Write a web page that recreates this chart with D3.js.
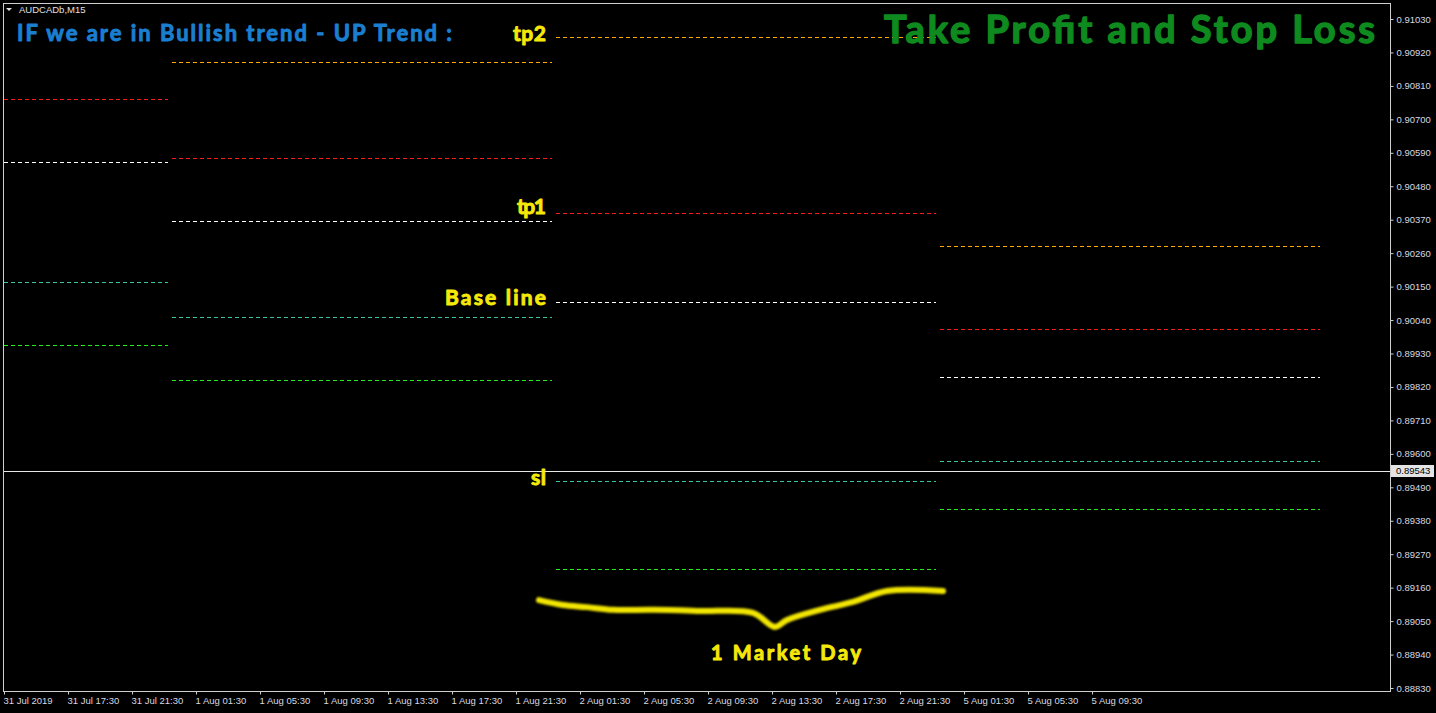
<!DOCTYPE html>
<html><head><meta charset="utf-8">
<script src="https://cdn.jsdelivr.net/npm/d3@7"></script>
<style>html,body{margin:0;padding:0;background:#000;overflow:hidden}</style>
</head><body><svg id="c" width="1436" height="713"></svg>
<script>
// ---------- data ----------
const symbolLabel = "AUDCADb,M15";
const yTicks = [0.88830,0.88940,0.89050,0.89160,0.89270,0.89380,0.89490,0.89600,0.89710,0.89820,0.89930,0.90040,0.90150,0.90260,0.90370,0.90480,0.90590,0.90700,0.90810,0.90920,0.91030];
const xTickIndex = [0,16,32,48,64,80,96,112,128,144,160,176,192,208,224,240,256,272];
const xTickLabels = ["31 Jul 2019","31 Jul 17:30","31 Jul 21:30","1 Aug 01:30","1 Aug 05:30","1 Aug 09:30","1 Aug 13:30","1 Aug 17:30","1 Aug 21:30","2 Aug 01:30","2 Aug 05:30","2 Aug 09:30","2 Aug 13:30","2 Aug 17:30","2 Aug 21:30","5 Aug 01:30","5 Aug 05:30","5 Aug 09:30"];
// daily pivot segments (bar index of M15 chart)
const segStart = [0, 42, 138, 234];
const segEnd   = [41, 137, 233, 329];
const tp2Level  = [null, 0.90889, 0.90971, 0.90283];
const tp1Level  = [0.90767, 0.90573, 0.90392, 0.90011];
const baseLevel = [0.90560, 0.90366, 0.90099, 0.89853];
const slLevel   = [0.90165, 0.90050, 0.89511, 0.89576];
const s2Level   = [0.89958, 0.89843, 0.89221, 0.89419];
const currentPrice = 0.89543;
// hand-drawn yellow "1 market day" stroke
const curveIdx   = [133.75,139.75,145.75,152.25,162.25,174,187.25,192.75,195.75,204,212.25,220.75,234.75];
const curvePrice = [0.89119,0.89103,0.89096,0.89087,0.89087,0.89083,0.89077,0.89031,0.89054,0.89087,0.89113,0.89149,0.89149];
const annotations = [
  {text:"tp2", idx:135.5, price:0.90971},
  {text:"tp1", idx:135.5, price:0.90392},
  {text:"Base line", idx:135.5, price:0.90099},
  {text:"sl", idx:135.5, price:0.89511}
];

// ---------- layout ----------
const W = 1436, H = 713;
const frame = {l:3, t:3, r:1390, b:691};
const svg = d3.select("#c");
svg.append("rect").attr("width",W).attr("height",H).attr("fill","#000");

const x = d3.scaleLinear().domain([0, 346.5]).range([4, 1390]);
const y = d3.scaleLinear().domain([0.88830, 0.91030]).range([688, 19]);

const defs = svg.append("defs");
defs.append("clipPath").attr("id","clip").append("rect")
  .attr("x",frame.l).attr("y",frame.t).attr("width",frame.r-frame.l).attr("height",frame.b-frame.t);
const blur = defs.append("filter").attr("id","blur").attr("x","-5%").attr("y","-50%").attr("width","110%").attr("height","200%");
blur.append("feGaussianBlur").attr("stdDeviation",1.1);

const plot = svg.append("g").attr("clip-path","url(#clip)");

// current price line
plot.append("line").attr("x1",frame.l).attr("x2",frame.r)
  .attr("y1",Math.round(y(currentPrice))+0.5).attr("y2",Math.round(y(currentPrice))+0.5)
  .attr("stroke","#e8e8e8").attr("stroke-width",1);

// pivot levels
const levels = [
  {vals:tp2Level, color:"#ffa800"},
  {vals:tp1Level, color:"#ff1a1a"},
  {vals:baseLevel, color:"#ffffff"},
  {vals:slLevel, color:"#3cc4a0"},
  {vals:s2Level, color:"#22ee22"}
];
levels.forEach(lv => {
  lv.vals.forEach((v,i) => {
    if (v == null) return;
    const yy = Math.round(y(v)) + 0.5;
    plot.append("line")
      .attr("x1", x(segStart[i])).attr("x2", x(segEnd[i]))
      .attr("y1", yy).attr("y2", yy)
      .attr("stroke", lv.color).attr("stroke-width",1)
      .attr("stroke-dasharray","4,3");
  });
});

// yellow curve
const line = d3.line().x(d=>x(d[0])).y(d=>y(d[1])).curve(d3.curveCatmullRom.alpha(0.5));
plot.append("path").datum(curveIdx.map((d,i)=>[d,curvePrice[i]]))
  .attr("d", line).attr("fill","none").attr("stroke","#f2e600")
  .attr("stroke-width",6).attr("stroke-linecap","round").attr("stroke-linejoin","round")
  .attr("filter","url(#blur)");

// frame
svg.append("rect").attr("x",frame.l+0.5).attr("y",frame.t+0.5)
  .attr("width",frame.r-frame.l).attr("height",frame.b-frame.t)
  .attr("fill","none").attr("stroke","#cfcfcf").attr("stroke-width",1);

// y axis
const yAxisG = svg.append("g").attr("transform",`translate(${frame.r+0.5},0)`)
  .call(d3.axisRight(y).tickValues(yTicks).tickSize(3).tickFormat(d3.format(".5f")));
yAxisG.select(".domain").remove();
yAxisG.selectAll("line").attr("stroke","#cfcfcf");
yAxisG.selectAll("text").attr("fill","#d8d8e0").attr("x",6)
  .style("font-family","'Liberation Sans', Arial, sans-serif").style("font-size","9.5px");

// current price label
const cpY = Math.round(y(currentPrice));
svg.append("rect").attr("x",1391).attr("y",cpY-6).attr("width",43).attr("height",12).attr("fill","#e4e4e4");
svg.append("text").attr("x",1396).attr("y",cpY).attr("dy","0.35em").text(d3.format(".5f")(currentPrice))
  .attr("fill","#000").style("font-family","'Liberation Sans', Arial, sans-serif").style("font-size","9.5px");

// x axis
const xAxisG = svg.append("g").attr("transform",`translate(0,${frame.b+0.5})`)
  .call(d3.axisBottom(x).tickValues(xTickIndex).tickSize(3).tickFormat((d,i)=>xTickLabels[i]));
xAxisG.select(".domain").remove();
xAxisG.selectAll("line").attr("stroke","#cfcfcf");
xAxisG.selectAll("text").attr("fill","#d8d8e0").attr("text-anchor","start").attr("x",-1).attr("y",6)
  .style("font-family","'Liberation Sans', Arial, sans-serif").style("font-size","9.5px");

// symbol label
svg.append("path").attr("d","M6,8 L12,8 L9,11 Z").attr("fill","#e0e0e0");
svg.append("text").attr("x",19).attr("y",13).text(symbolLabel).attr("fill","#e0e0e0")
  .style("font-family","'Liberation Sans', Arial, sans-serif").style("font-size","9.5px");

// titles (stroke thickens to mimic the heavy rounded font)
function heavyText(t, color, sw) {
  return t.attr("fill", color).attr("stroke", color).attr("stroke-width", sw)
    .attr("stroke-linejoin","round")
    .style("font-family","Lato, 'Open Sans', sans-serif").style("font-weight","bold");
}
heavyText(svg.append("text").attr("x",17).attr("y",41).text("IF we are in Bullish trend - UP Trend :")
  .attr("textLength",435).attr("lengthAdjust","spacing").style("font-size","22px"), "#1a7fd0", 0.9);
heavyText(svg.append("text").attr("x",884).attr("y",43).text("Take Profit and Stop Loss")
  .attr("textLength",491).attr("lengthAdjust","spacing").style("font-size","38px"), "#0e8a1e", 1.4);

// annotations
const annW = {"tp2":33, "tp1":29, "Base line":101, "sl":15};
const annDy = {"tp2":4, "tp1":1, "Base line":3, "sl":4};
annotations.forEach(a => {
  heavyText(svg.append("text").attr("x", x(a.idx)).attr("y", y(a.price) + annDy[a.text])
    .attr("text-anchor","end").text(a.text)
    .attr("textLength", annW[a.text]).attr("lengthAdjust","spacing")
    .style("font-size","21px"), "#f5e80a", 0.9);
});
heavyText(svg.append("text").attr("x",711).attr("y",660).text("1 Market Day")
  .attr("textLength",150).attr("lengthAdjust","spacing").style("font-size","20px"), "#f5e80a", 0.9);
</script></body></html>
